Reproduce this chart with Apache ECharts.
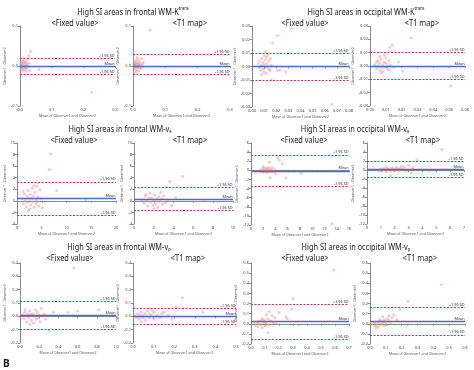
<!DOCTYPE html>
<html><head><meta charset="utf-8">
<script src="https://cdn.jsdelivr.net/npm/echarts@6/dist/echarts.min.js"></script>
<style>html,body{margin:0;padding:0;background:#fff}#c{width:474px;height:370px}</style>
</head><body><div id="c"></div>
<script>
// ---------- DATA ----------
// [mean of observers, difference]
const frontalKFixed = [[0.002,0.004],[0.004,-0.003],[0.005,0.008],[0.006,0.001],[0.007,-0.006],[0.008,0.012],[0.009,0.003],[0.010,-0.010],[0.011,0.006],[0.012,-0.002],[0.013,0.015],[0.014,0.000],[0.015,-0.008],[0.016,0.009],[0.017,-0.004],[0.018,0.002],[0.019,-0.014],[0.020,0.011],[0.021,0.004],[0.022,-0.006],[0.024,0.018],[0.026,-0.001],[0.028,0.007],[0.030,-0.012],[0.034,0.037],[0.028,0.025],[0.016,-0.022],[0.060,-0.008],[0.226,-0.066],[0.003,-0.012],[0.009,0.020]];
const frontalKT1 = [[0.002,0.003],[0.003,-0.004],[0.004,0.010],[0.005,0.001],[0.006,-0.008],[0.007,0.006],[0.008,-0.002],[0.009,0.013],[0.010,0.004],[0.011,-0.011],[0.012,0.000],[0.013,0.008],[0.014,-0.005],[0.015,0.016],[0.016,0.002],[0.017,-0.013],[0.018,0.007],[0.019,-0.003],[0.020,0.011],[0.022,0.001],[0.024,-0.007],[0.026,0.019],[0.028,0.005],[0.030,-0.001],[0.032,0.009],[0.012,0.021],[0.008,-0.016],[0.053,0.090],[0.004,0.005],[0.017,0.003]];
const occipitalKFixed = [[0.005,0.002],[0.006,-0.001],[0.006,0.004],[0.007,0.000],[0.007,-0.003],[0.008,0.006],[0.008,0.001],[0.009,-0.002],[0.009,0.003],[0.010,0.008],[0.010,-0.004],[0.010,0.001],[0.011,0.005],[0.011,-0.001],[0.012,0.002],[0.012,-0.005],[0.013,0.009],[0.013,0.000],[0.014,0.004],[0.014,-0.002],[0.015,0.006],[0.015,-0.003],[0.016,0.001],[0.008,-0.006],[0.012,0.007],[0.021,0.023],[0.017,0.0175],[0.016,-0.010],[0.021,-0.003],[0.023,-0.0025],[0.028,-0.004],[0.0325,0.028],[0.066,-0.028],[0.011,0.011]];
const occipitalKT1 = [[0.003,0.001],[0.004,-0.002],[0.004,0.003],[0.005,0.000],[0.005,0.004],[0.006,-0.003],[0.006,0.002],[0.007,-0.001],[0.007,0.005],[0.008,0.001],[0.008,-0.004],[0.009,0.003],[0.009,-0.001],[0.010,0.002],[0.010,0.006],[0.011,-0.002],[0.011,0.000],[0.012,0.004],[0.012,-0.003],[0.013,0.001],[0.006,0.007],[0.009,0.008],[0.014,0.016],[0.0126,0.014],[0.026,0.021],[0.0206,-0.004],[0.015,-0.001],[0.018,0.003],[0.051,-0.015],[0.007,-0.005]];
const frontalVeFixed = [[1.0,0.3],[1.3,-0.5],[1.5,1.2],[1.7,0.1],[1.9,-1.0],[2.0,0.8],[2.1,-0.3],[2.2,1.8],[2.4,0.5],[2.5,-1.4],[2.6,0.0],[2.7,1.1],[2.8,-0.7],[3.0,0.4],[3.1,2.2],[3.2,-0.2],[3.3,0.9],[3.5,-1.1],[3.6,1.5],[3.8,0.2],[3.9,-0.5],[4.0,2.5],[4.2,0.7],[4.4,-0.9],[4.6,1.9],[4.8,0.3],[5.1,-1.2],[6.8,8.1],[6.5,5.4],[8.0,1.8],[13.9,0.15],[1.2,1.6],[2.3,-1.7],[3.4,2.6],[4.1,-0.1]];
const frontalVeT1 = [[0.8,0.2],[1.0,-0.4],[1.1,0.8],[1.3,0.0],[1.4,-0.9],[1.5,0.5],[1.6,1.3],[1.7,-0.2],[1.8,0.6],[1.9,-0.7],[2.0,0.1],[2.1,1.0],[2.2,-0.5],[2.3,0.3],[2.4,-1.1],[2.5,0.7],[2.6,-0.1],[2.7,1.5],[2.8,0.4],[2.9,-0.6],[3.0,0.9],[3.2,-0.3],[3.4,0.2],[3.6,3.4],[3.3,2.4],[4.9,4.2],[7.1,0.0],[3.8,-0.8],[1.2,1.1],[2.0,-1.3],[4.2,0.6]];
const occipitalVeFixed = [[1.4,0.1],[1.6,-0.2],[1.8,0.3],[2.0,0.0],[2.1,-0.4],[2.2,0.5],[2.3,0.1],[2.4,-0.1],[2.5,0.3],[2.6,-0.5],[2.7,0.2],[2.8,0.7],[2.9,-0.2],[3.0,0.0],[3.1,0.4],[3.2,-0.3],[3.3,0.1],[3.5,0.6],[3.7,-0.2],[3.9,0.2],[3.0,1.75],[4.4,2.7],[4.6,2.2],[5.1,1.4],[5.7,-1.7],[8.2,-0.7],[3.1,-1.6],[4.0,-0.8],[13.2,-11.7],[2.0,0.8]];
const occipitalVeT1 = [[0.8,0.0],[0.9,-0.3],[1.0,0.2],[1.1,-0.1],[1.2,0.4],[1.3,0.0],[1.4,-0.4],[1.5,0.3],[1.6,0.1],[1.7,-0.2],[1.8,0.5],[1.9,0.2],[2.0,-0.1],[2.1,0.6],[2.2,0.3],[2.3,-0.3],[2.4,0.4],[2.5,0.8],[2.6,0.1],[2.8,-0.2],[3.0,1.1],[3.6,2.2],[5.4,4.6],[4.5,-0.15],[3.2,-0.6],[1.7,-1.3],[2.7,0.7],[3.3,0.5],[1.4,0.7]];
const frontalVpFixed = [[0.03,0.01],[0.04,-0.02],[0.05,0.03],[0.06,0.00],[0.07,-0.04],[0.08,0.02],[0.09,-0.01],[0.10,0.04],[0.11,0.01],[0.12,-0.03],[0.13,0.02],[0.14,-0.05],[0.15,0.00],[0.16,0.05],[0.17,-0.02],[0.18,0.03],[0.19,-0.01],[0.20,0.01],[0.21,-0.04],[0.22,0.06],[0.24,0.11],[0.25,0.02],[0.27,-0.02],[0.30,-0.11],[0.35,0.03],[0.50,0.03],[0.60,0.04],[0.82,0.05],[0.56,0.365],[0.10,-0.06],[0.05,0.05]];
const frontalVpT1 = [[0.01,0.00],[0.02,-0.01],[0.02,0.02],[0.03,0.01],[0.03,-0.02],[0.04,0.00],[0.04,0.03],[0.05,-0.01],[0.05,0.01],[0.06,0.02],[0.06,-0.03],[0.07,0.00],[0.07,0.04],[0.08,-0.01],[0.08,0.02],[0.09,0.01],[0.10,-0.02],[0.10,0.03],[0.11,0.00],[0.12,0.01],[0.13,-0.01],[0.14,0.02],[0.15,0.03],[0.17,0.01],[0.21,0.07],[0.24,0.14],[0.34,0.03],[0.19,-0.02],[0.09,0.05],[0.04,-0.04]];
const occipitalVpFixed = [[0.02,0.00],[0.03,-0.02],[0.04,0.01],[0.05,-0.03],[0.05,0.02],[0.06,0.00],[0.07,-0.01],[0.07,0.03],[0.08,-0.04],[0.09,0.01],[0.09,0.04],[0.10,-0.02],[0.10,0.02],[0.11,0.00],[0.12,0.05],[0.12,-0.09],[0.13,0.12],[0.13,-0.01],[0.14,0.03],[0.15,0.08],[0.16,0.01],[0.17,0.06],[0.20,0.11],[0.25,0.07],[0.26,0.05],[0.29,0.145],[0.30,0.25],[0.34,-0.01],[0.59,0.53],[0.18,0.00],[0.11,0.09],[0.08,0.05]];
const occipitalVpT1 = [[0.02,0.00],[0.03,-0.02],[0.03,0.01],[0.04,-0.01],[0.05,0.02],[0.05,-0.03],[0.06,0.00],[0.07,0.03],[0.07,-0.01],[0.08,0.07],[0.08,0.01],[0.09,-0.02],[0.09,0.04],[0.10,0.02],[0.10,-0.01],[0.11,0.05],[0.12,0.03],[0.12,0.08],[0.13,0.00],[0.14,0.06],[0.15,0.09],[0.17,0.04],[0.19,0.14],[0.24,0.22],[0.24,-0.01],[0.45,0.385],[0.06,0.04],[0.04,-0.04]];

// limits of agreement: [+1.96 SD, mean, -1.96 SD]
const frontalKFixedLimits = [0.022, 0.001, -0.021];
const frontalKT1Limits = [0.027, 0.004, -0.018];
const occipitalKFixedLimits = [0.015, 0.001, -0.013];
const occipitalKT1Limits = [0.011, 0.001, -0.009];
const frontalVeFixedLimits = [3.3, 0.4, -2.5];
const frontalVeT1Limits = [2.3, 0.3, -1.7];
const occipitalVeFixedLimits = [3.4, -0.1, -3.6];
const occipitalVeT1Limits = [2.0, 0.2, -1.6];
const frontalVpFixedLimits = [0.11, 0.01, -0.10];
const frontalVpT1Limits = [0.06, 0.00, -0.06];
const occipitalVpFixedLimits = [0.19, 0.02, -0.15];
const occipitalVpT1Limits = [0.16, 0.02, -0.11];

// axis ticks [min, max, step]
const xTicksFrontalK = [0, 0.3, 0.1];
const yTicksFrontalK = [-0.1, 0.1, 0.1];
const xTicksOccipitalKFixed = [0, 0.08, 0.01];
const xTicksOccipitalKT1 = [0, 0.06, 0.01];
const yTicksOccipitalK = [-0.03, 0.03, 0.01];
const xTicksFrontalVeFixed = [0, 20, 5];
const xTicksFrontalVeT1 = [0, 10, 2];
const yTicksFrontalVe = [-4, 10, 2];
const xTicksOccipitalVeFixed = [0, 16, 2];
const xTicksOccipitalVeT1 = [0, 7, 1];
const yTicksOccipitalVe = [-12, 6, 2];
const xTicksFrontalVpFixed = [0, 1, 0.2];
const xTicksFrontalVpT1 = [0, 0.5, 0.1];
const yTicksFrontalVp = [-0.2, 0.4, 0.1];
const xTicksOccipitalVpFixed = [0, 0.7, 0.1];
const xTicksOccipitalVpT1 = [0, 0.6, 0.1];
const yTicksOccipitalVp = [-0.2, 0.6, 0.1];

const limitNames = ['+1.96 SD', 'Mean', '-1.96 SD'];
const xAxisTitle = 'Mean of Observer1 and Observer2';
const yAxisTitle = 'Observer1 - Observer2';

// ---------- LAYOUT ----------
const panels = [
  {d: frontalKFixed, l: frontalKFixedLimits, x: xTicksFrontalK, y: yTicksFrontalK, xd:1, yd:1, ld:2, b:[20,26,95,80]},
  {d: frontalKT1, l: frontalKT1Limits, x: xTicksFrontalK, y: yTicksFrontalK, xd:1, yd:1, ld:2, b:[133,26,97,80]},
  {d: occipitalKFixed, l: occipitalKFixedLimits, x: xTicksOccipitalKFixed, y: yTicksOccipitalK, xd:2, yd:2, ld:3, b:[252,26,97,81]},
  {d: occipitalKT1, l: occipitalKT1Limits, x: xTicksOccipitalKT1, y: yTicksOccipitalK, xd:2, yd:2, ld:3, b:[370,26,95,80]},
  {d: frontalVeFixed, l: frontalVeFixedLimits, x: xTicksFrontalVeFixed, y: yTicksFrontalVe, xd:0, yd:0, ld:1, b:[17,143,99,81]},
  {d: frontalVeT1, l: frontalVeT1Limits, x: xTicksFrontalVeT1, y: yTicksFrontalVe, xd:0, yd:0, ld:1, b:[134,143,99,81]},
  {d: occipitalVeFixed, l: occipitalVeFixedLimits, x: xTicksOccipitalVeFixed, y: yTicksOccipitalVe, xd:0, yd:0, ld:1, b:[251,143,98,82]},
  {d: occipitalVeT1, l: occipitalVeT1Limits, x: xTicksOccipitalVeT1, y: yTicksOccipitalVe, xd:0, yd:0, ld:1, b:[367,143,97,81]},
  {d: frontalVpFixed, l: frontalVpFixedLimits, x: xTicksFrontalVpFixed, y: yTicksFrontalVp, xd:1, yd:1, ld:2, b:[20,263,96,80]},
  {d: frontalVpT1, l: frontalVpT1Limits, x: xTicksFrontalVpT1, y: yTicksFrontalVp, xd:1, yd:1, ld:2, b:[133,263,103,80]},
  {d: occipitalVpFixed, l: occipitalVpFixedLimits, x: xTicksOccipitalVpFixed, y: yTicksOccipitalVp, xd:1, yd:1, ld:2, b:[251,263,98,81]},
  {d: occipitalVpT1, l: occipitalVpT1Limits, x: xTicksOccipitalVpT1, y: yTicksOccipitalVp, xd:1, yd:1, ld:2, b:[370,263,95,81]}
];

const FONT = 'Noto Sans';
const grid = [], xAxis = [], yAxis = [], series = [];
const axisCommon = {
  axisLine: {lineStyle: {color: '#8a8a8a', width: 1}},
  axisTick: {length: 2, lineStyle: {color: '#8a8a8a'}},
  splitLine: {show: false},
  nameTextStyle: {fontSize: 3.5, color: '#555', fontFamily: FONT},
};
panels.forEach((p, i) => {
  grid.push({left: p.b[0], top: p.b[1], width: p.b[2], height: p.b[3], containLabel: false});
  xAxis.push(Object.assign({}, axisCommon, {
    type: 'value', gridIndex: i, min: p.x[0], max: p.x[1], interval: p.x[2],
    name: xAxisTitle, nameLocation: 'middle', nameGap: 8,
    axisLabel: {fontSize: 4, color: '#444', margin: 2, fontFamily: FONT, formatter: v => v.toFixed(p.xd)}
  }));
  yAxis.push(Object.assign({}, axisCommon, {
    type: 'value', gridIndex: i, min: p.y[0], max: p.y[1], interval: p.y[2],
    name: yAxisTitle, nameLocation: 'middle', nameGap: 10, nameRotate: 90,
    axisLabel: {fontSize: 4, color: '#444', margin: 2, fontFamily: FONT, formatter: v => v.toFixed(p.yd)}
  }));
  const ml = [];
  p.l.forEach((v, k) => {
    const isMean = k === 1;
    ml.push({yAxis: v,
      lineStyle: isMean ? {color: '#4a68d8', width: 1.3, type: 'solid'} : {color: '#c8325a', width: 1.2, type: [2, 1.5]},
      label: {show: true, position: 'insideEndTop', formatter: limitNames[k], fontSize: 3.8, color: '#333', distance: 0.5, fontFamily: FONT}});
    ml.push({yAxis: v, lineStyle: {opacity: 0, width: 0},
      label: {show: true, position: 'insideEndBottom', formatter: v.toFixed(p.ld), fontSize: 3.8, color: '#333', distance: 0.5, fontFamily: FONT}});
  });
  series.push({
    type: 'scatter', xAxisIndex: i, yAxisIndex: i, data: p.d, symbolSize: 3,
    itemStyle: {color: 'rgba(240,130,130,0.55)'},
    markLine: {silent: true, symbol: 'none', animation: false, data: ml}
  });
});

function titleText(x, y, main, supOrSub, kind) {
  const rich = {
    a: {fontSize: 9, fontFamily: FONT, fill: '#1a1a1a', lineHeight: 11},
    s: {fontSize: 5, fontFamily: FONT, fill: '#1a1a1a', verticalAlign: kind === 'sup' ? 'top' : 'bottom', lineHeight: 11}
  };
  return {type: 'text', x: x, y: y, scaleX: 0.82, style: {text: '{a|' + main + '}{s|' + supOrSub + '}', rich: rich, align: 'center', verticalAlign: 'middle', textAlign: 'center', textVerticalAlign: 'middle'}};
}
function subText(x, y, t) {
  return {type: 'text', x: x, y: y, scaleX: 0.82, style: {text: t, fontSize: 9, fontFamily: FONT, fill: '#1a1a1a', align: 'center', verticalAlign: 'middle', textAlign: 'center', textVerticalAlign: 'middle'}};
}
const graphic = [
  titleText(133, 12, 'High SI areas in frontal WM-K', 'trans', 'sup'),
  titleText(366, 12, 'High SI areas in occipital WM-K', 'trans', 'sup'),
  titleText(120, 129, 'High SI areas in frontal WM-v', 'e', 'sub'),
  titleText(355, 129, 'High SI areas in occipital WM-v', 'e', 'sub'),
  titleText(119, 247, 'High SI areas in frontal WM-v', 'p', 'sub'),
  titleText(356, 247, 'High SI areas in occipital WM-v', 'p', 'sub'),
  subText(75, 23, '<Fixed value>'), subText(190, 23, '<T1 map>'),
  subText(305, 23, '<Fixed value>'), subText(422, 23, '<T1 map>'),
  subText(74, 140, '<Fixed value>'), subText(190, 140, '<T1 map>'),
  subText(304, 140, '<Fixed value>'), subText(423, 140, '<T1 map>'),
  subText(70, 258, '<Fixed value>'), subText(188, 258, '<T1 map>'),
  subText(305, 258, '<Fixed value>'), subText(420, 258, '<T1 map>'),
  {type: 'text', x: 3, y: 359, style: {text: 'B', fontSize: 10, fontWeight: 'bold', fontFamily: FONT, fill: '#111'}}
];

const chart = echarts.init(document.getElementById('c'), null, {renderer: 'canvas'});
chart.setOption({animation: false, backgroundColor: '#fff', grid, xAxis, yAxis, series, graphic});
</script></body></html>
